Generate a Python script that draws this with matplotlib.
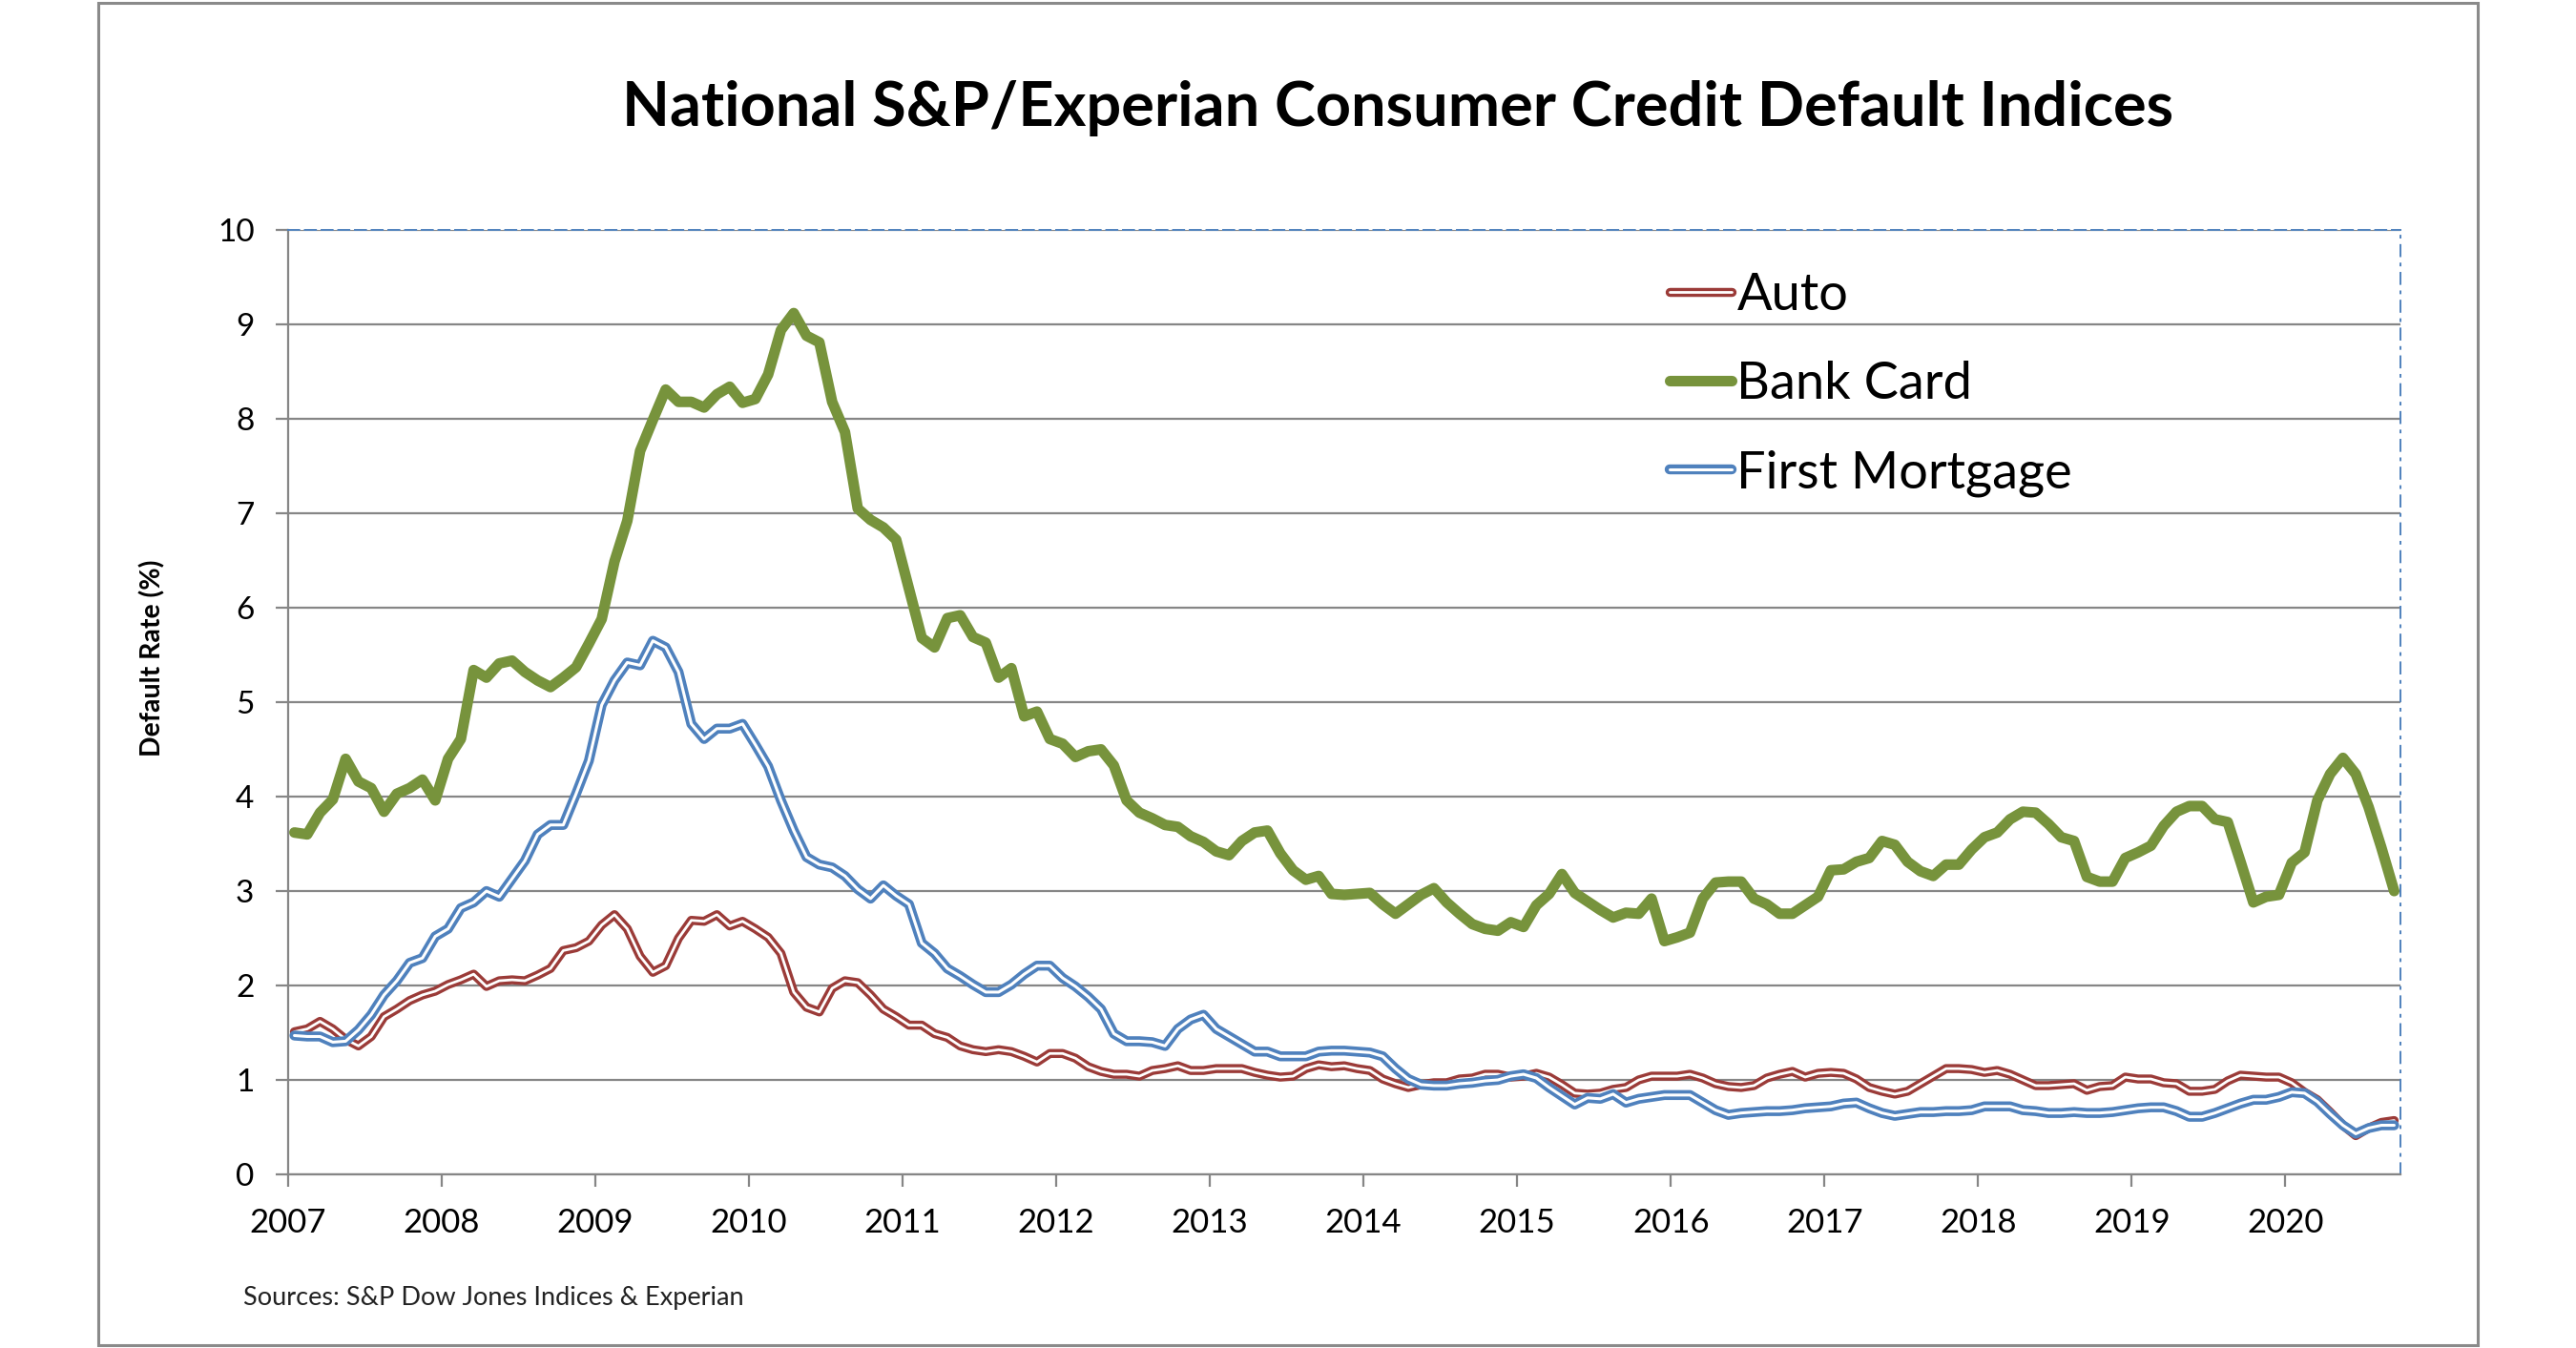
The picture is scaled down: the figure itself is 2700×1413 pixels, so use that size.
import numpy as np
import matplotlib
matplotlib.use("Agg")
import matplotlib.pyplot as plt
import matplotlib.patheffects as pe
from matplotlib.patches import Rectangle

plt.rcParams['font.family'] = ['Lato', 'DejaVu Sans']

# monthly default rates (%), Jan 2007 .. Sep 2020
start_year = 2007
years = list(range(2007, 2021))

auto = [
    1.51, 1.54, 1.62, 1.54, 1.43, 1.36, 1.46, 1.67, 1.75, 1.84, 1.90, 1.94,
    2.01, 2.06, 2.12, 1.99, 2.05, 2.06, 2.05, 2.11, 2.18, 2.37, 2.40, 2.47,
    2.64, 2.75, 2.60, 2.31, 2.14, 2.21, 2.50, 2.69, 2.68, 2.75, 2.63, 2.68,
    2.60, 2.51, 2.34, 1.93, 1.77, 1.72, 1.97, 2.05, 2.03, 1.90, 1.75, 1.67,
    1.58, 1.58, 1.49, 1.45, 1.36, 1.32, 1.30, 1.32, 1.30, 1.25, 1.19, 1.28,
    1.28, 1.23, 1.14, 1.09, 1.06, 1.06, 1.04, 1.10, 1.12, 1.15, 1.10, 1.10,
    1.12, 1.12, 1.12, 1.08, 1.05, 1.03, 1.04, 1.12, 1.16, 1.14, 1.15, 1.12,
    1.10, 1.01, 0.96, 0.92, 0.95, 0.97, 0.97, 1.01, 1.02, 1.06, 1.06, 1.03,
    1.04, 1.07, 1.03, 0.95, 0.86, 0.85, 0.86, 0.90, 0.92, 1.00, 1.04, 1.04,
    1.04, 1.06, 1.02, 0.96, 0.93, 0.92, 0.94, 1.02, 1.06, 1.09, 1.03, 1.07,
    1.08, 1.07, 1.01, 0.92, 0.88, 0.85, 0.88, 0.96, 1.04, 1.12, 1.12, 1.11,
    1.08, 1.10, 1.06, 1.00, 0.94, 0.94, 0.95, 0.96, 0.89, 0.93, 0.94, 1.03,
    1.01, 1.01, 0.97, 0.96, 0.88, 0.88, 0.90, 0.99, 1.05, 1.04, 1.03, 1.03,
    0.97, 0.87, 0.79, 0.66, 0.52, 0.41, 0.49, 0.55, 0.57,
]

bank_card = [
    3.62, 3.60, 3.83, 3.97, 4.40, 4.16, 4.09, 3.84, 4.03, 4.09, 4.18, 3.96,
    4.40, 4.61, 5.34, 5.26, 5.41, 5.44, 5.32, 5.23, 5.16, 5.26, 5.37, 5.62,
    5.88, 6.49, 6.92, 7.66, 7.99, 8.31, 8.18, 8.18, 8.12, 8.26, 8.34, 8.17,
    8.21, 8.47, 8.94, 9.12, 8.88, 8.81, 8.18, 7.86, 7.05, 6.93, 6.85, 6.72,
    6.20, 5.68, 5.58, 5.89, 5.92, 5.69, 5.63, 5.26, 5.36, 4.85, 4.90, 4.61,
    4.56, 4.42, 4.48, 4.50, 4.33, 3.96, 3.83, 3.77, 3.70, 3.68, 3.58, 3.52,
    3.42, 3.38, 3.53, 3.62, 3.64, 3.40, 3.22, 3.12, 3.16, 2.97, 2.96, 2.97,
    2.98, 2.86, 2.76, 2.86, 2.96, 3.03, 2.88, 2.76, 2.65, 2.60, 2.58, 2.67,
    2.62, 2.85, 2.97, 3.18, 2.98, 2.89, 2.80, 2.72, 2.77, 2.76, 2.92, 2.47,
    2.51, 2.56, 2.92, 3.09, 3.10, 3.10, 2.92, 2.86, 2.76, 2.76, 2.85, 2.94,
    3.22, 3.23, 3.31, 3.35, 3.53, 3.49, 3.31, 3.21, 3.16, 3.28, 3.28, 3.44,
    3.57, 3.62, 3.76, 3.84, 3.83, 3.71, 3.57, 3.53, 3.15, 3.10, 3.10, 3.35,
    3.41, 3.48, 3.69, 3.84, 3.90, 3.90, 3.76, 3.73, 3.31, 2.88, 2.94, 2.96,
    3.30, 3.41, 3.96, 4.24, 4.41, 4.24, 3.89, 3.46, 3.00,
]

first_mortgage = [
    1.47, 1.46, 1.46, 1.40, 1.41, 1.53, 1.69, 1.90, 2.05, 2.24, 2.29, 2.52,
    2.60, 2.82, 2.88, 3.00, 2.94, 3.13, 3.32, 3.60, 3.70, 3.70, 4.03, 4.38,
    4.97, 5.23, 5.42, 5.39, 5.65, 5.58, 5.32, 4.77, 4.61, 4.72, 4.72, 4.77,
    4.55, 4.32, 3.96, 3.64, 3.36, 3.28, 3.25, 3.16, 3.02, 2.92, 3.06, 2.95,
    2.86, 2.45, 2.34, 2.18, 2.10, 2.01, 1.93, 1.93, 2.01, 2.12, 2.21, 2.21,
    2.08, 1.99, 1.88, 1.75, 1.49, 1.41, 1.41, 1.40, 1.36, 1.54, 1.64, 1.69,
    1.54, 1.46, 1.38, 1.30, 1.30, 1.25, 1.25, 1.25, 1.30, 1.31, 1.31, 1.30,
    1.29, 1.25, 1.12, 1.01, 0.95, 0.94, 0.94, 0.96, 0.97, 0.99, 1.00, 1.04,
    1.06, 1.02, 0.92, 0.83, 0.74, 0.81, 0.80, 0.85, 0.76, 0.80, 0.82, 0.84,
    0.84, 0.84, 0.76, 0.68, 0.63, 0.65, 0.66, 0.67, 0.67, 0.68, 0.70, 0.71,
    0.72, 0.75, 0.76, 0.70, 0.65, 0.62, 0.64, 0.66, 0.66, 0.67, 0.67, 0.68,
    0.72, 0.72, 0.72, 0.68, 0.67, 0.65, 0.65, 0.66, 0.65, 0.65, 0.66, 0.68,
    0.70, 0.71, 0.71, 0.67, 0.61, 0.61, 0.65, 0.70, 0.75, 0.79, 0.79, 0.82,
    0.87, 0.86, 0.77, 0.64, 0.52, 0.43, 0.49, 0.52, 0.52,
]

# points sit in the middle of each month
months = np.arange(len(bank_card))
x = start_year + (months + 0.5) / 12.0

fig = plt.figure(figsize=(27, 14.13), dpi=100)
ax = fig.add_axes([0.1118, 0.1288, 0.8201, 0.7006])

grey = '#868686'

ax.plot(x, auto, color='white', lw=2.0, label='Auto', zorder=4,
        solid_joinstyle='round', solid_capstyle='round',
        path_effects=[pe.Stroke(linewidth=6.8, foreground='#9B3B38'), pe.Normal()])
ax.plot(x, bank_card, color='#77933C', lw=8, label='Bank Card', zorder=3,
        solid_joinstyle='round', solid_capstyle='round')
ax.plot(x, first_mortgage, color='white', lw=2.2, label='First Mortgage', zorder=5,
        solid_joinstyle='round', solid_capstyle='round',
        path_effects=[pe.Stroke(linewidth=7.5, foreground='#4F81BD'), pe.Normal()])

ax.set_xlim(start_year, 2020.75)
ax.set_ylim(0, 10)
ax.set_xticks(years)
ax.set_xticklabels([str(y) for y in years])
ax.set_yticks(range(0, 11))

ax.grid(axis='y', color=grey, lw=1.6, zorder=1)
ax.set_axisbelow(True)

for side in ['left', 'bottom']:
    ax.spines[side].set_color(grey)
    ax.spines[side].set_linewidth(1.6)
ax.spines['top'].set_color('#4F81BD')
ax.spines['top'].set_linewidth(1.4)
ax.spines['top'].set_linestyle((0, (6, 3)))
ax.spines['right'].set_color('#4F81BD')
ax.spines['right'].set_linewidth(1.4)
ax.spines['right'].set_linestyle((0, (6, 4, 1, 4)))

ax.tick_params(axis='both', direction='out', length=9.5, width=1.6, color=grey)
ax.tick_params(axis='y', labelsize=24, pad=16)
ax.tick_params(axis='x', labelsize=25, pad=16)

leg = ax.legend(loc='upper left', bbox_to_anchor=(0.654, 0.956), frameon=False,
                fontsize=39, handlelength=1.2, handletextpad=0.1,
                labelspacing=0.82, borderpad=0, borderaxespad=0)

fig.text(0.5426, 0.920, 'National S&P/Experian Consumer Credit Default Indices',
         ha='center', va='center', fontsize=46.7, fontweight='bold')
fig.text(0.0593, 0.512, 'Default Rate (%)', rotation=90, ha='center', va='center',
         fontsize=20.5, fontweight='bold')
fig.text(0.0944, 0.0375, 'Sources: S&P Dow Jones Indices & Experian',
         ha='left', va='center', fontsize=19.5, color='#222222')

fig.add_artist(Rectangle((103 / 2700, 3 / 1413), 2494 / 2700, 1407 / 1413,
                         fill=False, edgecolor='#8a8a8a', lw=2.2,
                         transform=fig.transFigure))

fig.savefig('out.png', dpi=100)
